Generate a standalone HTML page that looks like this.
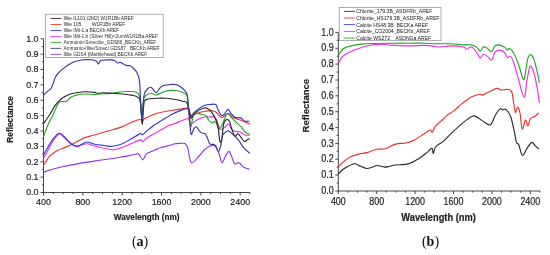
<!DOCTYPE html>
<html><head><meta charset="utf-8"><title>Reflectance spectra</title>
<style>
text{stroke:#222;stroke-width:0.18px;}
text.lg{stroke:none;fill:#2a2a2a;}
text.lg2{stroke:none;fill:#151515;}
text.cap{stroke:none;}
html,body{margin:0;padding:0;background:#fff;}
body{width:550px;height:255px;overflow:hidden;}
svg{display:block;}
</style></head>
<body>
<svg width="550" height="255" viewBox="0 0 550 255" font-family="'Liberation Sans', Arial, sans-serif" fill="#222">
<rect width="550" height="255" fill="#fff"/>
<g>
<path d="M43.5,38.8 L43.5,192.5 L250.0,192.5" fill="none" stroke="#333" stroke-width="0.9"/>
<path d="M40.5,192.5 H43.5 M41.9,184.8 H43.5 M40.5,177.1 H43.5 M41.9,169.4 H43.5 M40.5,161.8 H43.5 M41.9,154.1 H43.5 M40.5,146.4 H43.5 M41.9,138.7 H43.5 M40.5,131.0 H43.5 M41.9,123.3 H43.5 M40.5,115.7 H43.5 M41.9,108.0 H43.5 M40.5,100.3 H43.5 M41.9,92.6 H43.5 M40.5,84.9 H43.5 M41.9,77.2 H43.5 M40.5,69.5 H43.5 M41.9,61.9 H43.5 M40.5,54.2 H43.5 M41.9,46.5 H43.5 M40.5,38.8 H43.5 M43.5,192.5 V195.5 M53.3,192.5 V194.1 M63.2,192.5 V194.1 M73.0,192.5 V194.1 M82.8,192.5 V195.5 M92.7,192.5 V194.1 M102.5,192.5 V194.1 M112.3,192.5 V194.1 M122.2,192.5 V195.5 M132.0,192.5 V194.1 M141.9,192.5 V194.1 M151.7,192.5 V194.1 M161.5,192.5 V195.5 M171.4,192.5 V194.1 M181.2,192.5 V194.1 M191.0,192.5 V194.1 M200.9,192.5 V195.5 M210.7,192.5 V194.1 M220.5,192.5 V194.1 M230.4,192.5 V194.1 M240.2,192.5 V195.5 M250.0,192.5 V194.1" fill="none" stroke="#333" stroke-width="0.9"/>
<text transform="translate(38.5,195.37) scale(1,1.12)" text-anchor="end" font-size="8.9">0.0</text>
<text transform="translate(38.5,180.00) scale(1,1.12)" text-anchor="end" font-size="8.9">0.1</text>
<text transform="translate(38.5,164.63) scale(1,1.12)" text-anchor="end" font-size="8.9">0.2</text>
<text transform="translate(38.5,149.26) scale(1,1.12)" text-anchor="end" font-size="8.9">0.3</text>
<text transform="translate(38.5,133.89) scale(1,1.12)" text-anchor="end" font-size="8.9">0.4</text>
<text transform="translate(38.5,118.52) scale(1,1.12)" text-anchor="end" font-size="8.9">0.5</text>
<text transform="translate(38.5,103.15) scale(1,1.12)" text-anchor="end" font-size="8.9">0.6</text>
<text transform="translate(38.5,87.78) scale(1,1.12)" text-anchor="end" font-size="8.9">0.7</text>
<text transform="translate(38.5,72.41) scale(1,1.12)" text-anchor="end" font-size="8.9">0.8</text>
<text transform="translate(38.5,57.04) scale(1,1.12)" text-anchor="end" font-size="8.9">0.9</text>
<text transform="translate(38.5,41.67) scale(1,1.12)" text-anchor="end" font-size="8.9">1.0</text>
<text transform="translate(43.50,204.77) scale(1,1.12)" text-anchor="middle" font-size="8.9">400</text>
<text transform="translate(82.84,204.77) scale(1,1.12)" text-anchor="middle" font-size="8.9">800</text>
<text transform="translate(122.18,204.77) scale(1,1.12)" text-anchor="middle" font-size="8.9">1200</text>
<text transform="translate(161.52,204.77) scale(1,1.12)" text-anchor="middle" font-size="8.9">1600</text>
<text transform="translate(200.86,204.77) scale(1,1.12)" text-anchor="middle" font-size="8.9">2000</text>
<text transform="translate(240.20,204.77) scale(1,1.12)" text-anchor="middle" font-size="8.9">2400</text>
<path d="M43.50,172.30 C44.75,171.88 48.25,170.63 51.00,169.80 C53.75,168.97 55.17,168.37 60.00,167.30 C64.83,166.23 73.33,164.57 80.00,163.40 C86.67,162.23 93.33,161.32 100.00,160.30 C106.67,159.28 115.00,158.12 120.00,157.30 C125.00,156.48 127.17,155.95 130.00,155.40 C132.83,154.85 135.45,154.13 137.00,154.00 C138.55,153.87 138.38,153.63 139.30,154.60 C140.22,155.57 141.47,159.68 142.50,159.80 C143.53,159.92 144.75,156.33 145.50,155.30 C146.25,154.27 145.03,154.63 147.00,153.60 C148.97,152.57 155.03,150.08 157.30,149.10 C159.57,148.12 158.33,148.38 160.60,147.70 C162.87,147.02 168.55,145.65 170.90,145.00 C173.25,144.35 173.18,144.07 174.70,143.80 C176.22,143.53 178.37,143.47 180.00,143.40 C181.63,143.33 183.35,142.97 184.50,143.40 C185.65,143.83 186.32,145.05 186.90,146.00 C187.48,146.95 187.25,146.32 188.00,149.10 C188.75,151.88 189.70,161.38 191.40,162.70 C193.10,164.02 195.98,159.20 198.20,157.00 C200.42,154.80 202.78,151.30 204.70,149.50 C206.62,147.70 208.08,146.85 209.70,146.20 C211.32,145.55 213.22,145.22 214.40,145.60 C215.58,145.98 216.02,147.13 216.80,148.50 C217.58,149.87 218.23,151.43 219.10,153.80 C219.97,156.17 220.93,162.33 222.00,162.70 C223.07,163.07 224.35,157.88 225.50,156.00 C226.65,154.12 227.90,151.40 228.90,151.40 C229.90,151.40 230.57,153.92 231.50,156.00 C232.43,158.08 233.23,162.78 234.50,163.90 C235.77,165.02 237.58,162.13 239.10,162.70 C240.62,163.27 241.90,166.23 243.60,167.30 C245.30,168.37 248.35,168.80 249.30,169.10" fill="none" stroke="#9035e6" stroke-width="1.15" stroke-linejoin="round"/>
<path d="M43.50,165.50 C44.13,164.48 46.22,161.02 47.30,159.40 C48.38,157.78 48.33,157.27 50.00,155.80 C51.67,154.33 54.88,151.97 57.30,150.60 C59.72,149.23 62.08,148.60 64.50,147.60 C66.92,146.60 69.37,145.78 71.80,144.60 C74.23,143.42 76.92,141.67 79.10,140.50 C81.28,139.33 82.48,138.47 84.90,137.60 C87.32,136.73 89.72,136.40 93.60,135.30 C97.48,134.20 103.35,132.45 108.20,131.00 C113.05,129.55 119.07,127.93 122.70,126.60 C126.33,125.27 127.15,124.18 130.00,123.00 C132.85,121.82 137.77,119.67 139.80,119.50 C141.83,119.33 141.42,122.12 142.20,122.00 C142.98,121.88 142.03,120.25 144.50,118.80 C146.97,117.35 152.30,114.73 157.00,113.30 C161.70,111.87 168.25,110.98 172.70,110.20 C177.15,109.42 181.08,108.73 183.70,108.60 C186.32,108.47 187.35,108.67 188.40,109.40 C189.45,110.13 189.52,111.65 190.00,113.00 C190.48,114.35 190.68,117.18 191.30,117.50 C191.92,117.82 192.15,115.78 193.70,114.90 C195.25,114.02 198.72,112.82 200.60,112.20 C202.48,111.58 203.28,111.47 205.00,111.20 C206.72,110.93 209.13,110.50 210.90,110.60 C212.67,110.70 213.83,110.63 215.60,111.80 C217.37,112.97 219.93,117.02 221.50,117.60 C223.07,118.18 223.83,115.98 225.00,115.30 C226.17,114.62 227.13,113.12 228.50,113.50 C229.87,113.88 231.23,116.52 233.20,117.60 C235.17,118.68 237.55,118.92 240.30,120.00 C243.05,121.08 248.13,123.42 249.70,124.10" fill="none" stroke="#e8332e" stroke-width="1.15" stroke-linejoin="round"/>
<path d="M43.50,158.60 C44.13,157.43 45.77,154.45 47.30,151.60 C48.83,148.75 50.72,144.48 52.70,141.50 C54.68,138.52 57.27,134.35 59.20,133.70 C61.13,133.05 62.28,135.88 64.30,137.60 C66.32,139.32 69.15,142.53 71.30,144.00 C73.45,145.47 75.42,146.28 77.20,146.40 C78.98,146.52 80.32,145.13 82.00,144.70 C83.68,144.27 85.22,143.58 87.30,143.80 C89.38,144.02 91.78,145.27 94.50,146.00 C97.22,146.73 100.43,147.57 103.60,148.20 C106.77,148.83 110.53,149.88 113.50,149.80 C116.47,149.72 118.52,148.70 121.40,147.70 C124.28,146.70 127.67,145.10 130.80,143.80 C133.93,142.50 138.17,140.28 140.20,139.90 C142.23,139.52 141.95,141.77 143.00,141.50 C144.05,141.23 144.35,139.75 146.50,138.30 C148.65,136.85 152.25,134.88 155.90,132.80 C159.55,130.72 165.60,127.22 168.40,125.80 C171.20,124.38 169.62,125.47 172.70,124.30 C175.78,123.13 184.18,119.52 186.90,118.80 C189.62,118.08 188.32,119.05 189.00,120.00 C189.68,120.95 189.83,124.43 191.00,124.50 C192.17,124.57 193.72,121.65 196.00,120.40 C198.28,119.15 202.22,117.55 204.70,117.00 C207.18,116.45 209.28,117.18 210.90,117.10 C212.52,117.02 213.42,115.92 214.40,116.50 C215.38,117.08 216.02,118.85 216.80,120.60 C217.58,122.35 218.32,125.52 219.10,127.00 C219.88,128.48 220.42,129.58 221.50,129.50 C222.58,129.42 224.38,127.42 225.60,126.50 C226.82,125.58 227.72,123.47 228.80,124.00 C229.88,124.53 230.97,128.45 232.10,129.70 C233.23,130.95 234.23,131.12 235.60,131.50 C236.97,131.88 238.73,131.42 240.30,132.00 C241.87,132.58 243.43,134.50 245.00,135.00 C246.57,135.50 248.92,135.00 249.70,135.00" fill="none" stroke="#ee2cee" stroke-width="1.15" stroke-linejoin="round"/>
<path d="M43.50,155.00 C44.13,153.87 45.77,150.82 47.30,148.20 C48.83,145.58 50.72,141.78 52.70,139.30 C54.68,136.82 57.27,133.72 59.20,133.30 C61.13,132.88 62.28,135.02 64.30,136.80 C66.32,138.58 69.15,142.43 71.30,144.00 C73.45,145.57 75.42,146.17 77.20,146.20 C78.98,146.23 80.32,144.90 82.00,144.20 C83.68,143.50 85.22,142.00 87.30,142.00 C89.38,142.00 91.78,143.62 94.50,144.20 C97.22,144.78 100.57,145.15 103.60,145.50 C106.63,145.85 109.67,146.55 112.70,146.30 C115.73,146.05 118.78,145.20 121.80,144.00 C124.82,142.80 127.73,140.83 130.80,139.10 C133.87,137.37 138.25,134.33 140.20,133.60 C142.15,132.87 141.45,135.08 142.50,134.70 C143.55,134.32 144.53,132.92 146.50,131.30 C148.47,129.68 152.55,126.30 154.30,125.00 C156.05,123.70 153.93,125.32 157.00,123.50 C160.07,121.68 167.98,116.58 172.70,114.10 C177.42,111.62 182.68,109.52 185.30,108.60 C187.92,107.68 187.57,107.32 188.40,108.60 C189.23,109.88 189.42,115.58 190.30,116.30 C191.18,117.02 191.98,114.38 193.70,112.90 C195.42,111.42 198.72,108.67 200.60,107.40 C202.48,106.13 203.48,105.78 205.00,105.30 C206.52,104.82 207.93,104.63 209.70,104.50 C211.47,104.37 214.23,103.68 215.60,104.50 C216.97,105.32 216.92,107.60 217.90,109.40 C218.88,111.20 220.42,114.52 221.50,115.30 C222.58,116.08 223.33,115.08 224.40,114.10 C225.47,113.12 226.82,109.50 227.90,109.40 C228.98,109.30 229.62,112.13 230.90,113.50 C232.18,114.87 234.03,116.92 235.60,117.60 C237.17,118.28 238.73,117.00 240.30,117.60 C241.87,118.20 243.43,120.60 245.00,121.20 C246.57,121.80 248.92,121.20 249.70,121.20" fill="none" stroke="#3434e0" stroke-width="1.15" stroke-linejoin="round"/>
<path d="M43.50,137.00 C44.13,135.23 45.77,129.98 47.30,126.40 C48.83,122.82 50.88,119.30 52.70,115.50 C54.52,111.70 56.83,105.88 58.20,103.60 C59.57,101.32 59.53,102.18 60.90,101.80 C62.27,101.42 64.73,102.05 66.40,101.30 C68.07,100.55 69.23,98.33 70.90,97.30 C72.57,96.27 73.97,95.65 76.40,95.10 C78.83,94.55 82.48,94.10 85.50,94.00 C88.52,93.90 92.08,94.50 94.50,94.50 C96.92,94.50 96.97,94.23 100.00,94.00 C103.03,93.77 109.07,93.47 112.70,93.10 C116.33,92.73 118.77,92.07 121.80,91.80 C124.83,91.53 128.47,91.43 130.90,91.50 C133.33,91.57 135.05,91.62 136.40,92.20 C137.75,92.78 138.32,93.37 139.00,95.00 C139.68,96.63 140.00,98.17 140.50,102.00 C141.00,105.83 141.50,118.33 142.00,118.00 C142.50,117.67 142.83,103.75 143.50,100.00 C144.17,96.25 144.67,96.62 146.00,95.50 C147.33,94.38 149.80,93.38 151.50,93.30 C153.20,93.22 154.05,95.30 156.20,95.00 C158.35,94.70 161.50,92.27 164.40,91.50 C167.30,90.73 170.85,90.35 173.60,90.40 C176.35,90.45 178.77,91.12 180.90,91.80 C183.03,92.48 185.28,93.33 186.40,94.50 C187.52,95.67 187.17,96.22 187.60,98.80 C188.03,101.38 188.48,105.30 189.00,110.00 C189.52,114.70 189.95,126.32 190.70,127.00 C191.45,127.68 192.62,116.43 193.50,114.10 C194.38,111.77 194.82,112.98 196.00,113.00 C197.18,113.02 198.92,113.77 200.60,114.20 C202.28,114.63 204.78,114.63 206.10,115.60 C207.42,116.57 207.50,118.78 208.50,120.00 C209.50,121.22 210.92,122.60 212.10,122.90 C213.28,123.20 214.43,120.72 215.60,121.80 C216.77,122.88 217.93,129.12 219.10,129.40 C220.27,129.68 221.42,125.85 222.60,123.50 C223.78,121.15 225.22,116.87 226.20,115.30 C227.18,113.73 227.52,113.62 228.50,114.10 C229.48,114.58 230.72,116.73 232.10,118.20 C233.48,119.67 235.23,121.42 236.80,122.90 C238.37,124.38 240.13,125.58 241.50,127.10 C242.87,128.62 243.63,130.78 245.00,132.00 C246.37,133.22 248.92,134.00 249.70,134.40" fill="none" stroke="#2aa22a" stroke-width="1.15" stroke-linejoin="round"/>
<path d="M43.50,123.60 C44.13,122.70 46.07,120.02 47.30,118.20 C48.53,116.38 49.70,114.67 50.90,112.70 C52.10,110.73 53.28,108.22 54.50,106.40 C55.72,104.58 56.68,103.32 58.20,101.80 C59.72,100.28 61.78,98.52 63.60,97.30 C65.42,96.08 66.97,95.27 69.10,94.50 C71.23,93.73 73.67,93.15 76.40,92.70 C79.13,92.25 82.48,91.85 85.50,91.80 C88.52,91.75 92.38,92.15 94.50,92.40 C96.62,92.65 96.68,93.25 98.20,93.30 C99.72,93.35 101.18,92.70 103.60,92.70 C106.02,92.70 109.67,93.08 112.70,93.30 C115.73,93.52 118.77,93.70 121.80,94.00 C124.83,94.30 128.47,94.70 130.90,95.10 C133.33,95.50 134.97,95.75 136.40,96.40 C137.83,97.05 138.77,97.57 139.50,99.00 C140.23,100.43 140.35,100.83 140.80,105.00 C141.25,109.17 141.75,123.50 142.20,124.00 C142.65,124.50 143.12,111.83 143.50,108.00 C143.88,104.17 143.72,102.50 144.50,101.00 C145.28,99.50 146.07,99.47 148.20,99.00 C150.33,98.53 154.27,98.33 157.30,98.20 C160.33,98.07 163.37,97.98 166.40,98.20 C169.43,98.42 172.78,98.98 175.50,99.50 C178.22,100.02 180.80,100.78 182.70,101.30 C184.60,101.82 185.85,101.15 186.90,102.60 C187.95,104.05 188.32,107.37 189.00,110.00 C189.68,112.63 189.98,117.92 191.00,118.40 C192.02,118.88 192.82,114.63 195.10,112.90 C197.38,111.17 202.27,108.48 204.70,108.00 C207.13,107.52 208.08,108.58 209.70,110.00 C211.32,111.42 213.03,113.85 214.40,116.50 C215.77,119.15 217.02,121.83 217.90,125.90 C218.78,129.97 219.10,138.50 219.70,140.90 C220.30,143.30 221.02,141.78 221.50,140.30 C221.98,138.82 222.22,134.80 222.60,132.00 C222.98,129.20 223.10,125.60 223.80,123.50 C224.50,121.40 225.82,119.68 226.80,119.40 C227.78,119.12 228.92,120.33 229.70,121.80 C230.48,123.27 230.62,125.80 231.50,128.20 C232.38,130.60 233.93,135.27 235.00,136.20 C236.07,137.13 236.82,133.52 237.90,133.80 C238.98,134.08 240.42,136.62 241.50,137.90 C242.58,139.18 243.42,141.20 244.40,141.50 C245.38,141.80 246.52,140.20 247.40,139.70 C248.28,139.20 249.32,138.70 249.70,138.50" fill="none" stroke="#2a2a2a" stroke-width="1.15" stroke-linejoin="round"/>
<path d="M43.50,95.30 C44.13,94.68 46.05,92.77 47.30,91.60 C48.55,90.43 50.02,89.65 51.00,88.30 C51.98,86.95 52.53,85.22 53.20,83.50 C53.87,81.78 54.07,79.83 55.00,78.00 C55.93,76.17 57.38,74.10 58.80,72.50 C60.22,70.90 61.38,69.98 63.50,68.40 C65.62,66.82 69.25,64.23 71.50,63.00 C73.75,61.77 74.98,61.55 77.00,61.00 C79.02,60.45 81.22,59.90 83.60,59.70 C85.98,59.50 89.18,59.55 91.30,59.80 C93.42,60.05 95.13,60.50 96.30,61.20 C97.47,61.90 97.68,64.00 98.30,64.00 C98.92,64.00 99.45,61.83 100.00,61.20 C100.55,60.57 99.68,60.42 101.60,60.20 C103.52,59.98 109.30,59.80 111.50,59.90 C113.70,60.00 113.80,60.28 114.80,60.80 C115.80,61.32 116.58,62.73 117.50,63.00 C118.42,63.27 119.28,62.22 120.30,62.40 C121.32,62.58 122.50,63.57 123.60,64.10 C124.70,64.63 125.80,65.32 126.90,65.60 C128.00,65.88 129.10,65.32 130.20,65.80 C131.30,66.28 132.40,67.42 133.50,68.50 C134.60,69.58 135.88,70.65 136.80,72.30 C137.72,73.95 138.47,75.95 139.00,78.40 C139.53,80.85 139.75,83.40 140.00,87.00 C140.25,90.60 140.17,94.50 140.50,100.00 C140.83,105.50 141.50,120.00 142.00,120.00 C142.50,120.00 143.08,104.40 143.50,100.00 C143.92,95.60 143.87,95.43 144.50,93.60 C145.13,91.77 146.23,90.05 147.30,89.00 C148.37,87.95 149.85,87.13 150.90,87.30 C151.95,87.47 152.68,89.10 153.60,90.00 C154.52,90.90 155.33,93.07 156.40,92.70 C157.47,92.33 158.90,88.95 160.00,87.80 C161.10,86.65 161.67,86.32 163.00,85.80 C164.33,85.28 166.17,84.93 168.00,84.70 C169.83,84.47 172.33,84.30 174.00,84.40 C175.67,84.50 176.83,84.83 178.00,85.30 C179.17,85.77 179.92,86.37 181.00,87.20 C182.08,88.03 183.45,89.00 184.50,90.30 C185.55,91.60 186.65,92.02 187.30,95.00 C187.95,97.98 187.95,103.20 188.40,108.20 C188.85,113.20 189.53,120.62 190.00,125.00 C190.47,129.38 190.58,133.85 191.20,134.50 C191.82,135.15 192.82,130.17 193.70,128.90 C194.58,127.63 195.35,126.32 196.50,126.90 C197.65,127.48 199.18,131.25 200.60,132.40 C202.02,133.55 203.87,132.88 205.00,133.80 C206.13,134.72 206.62,136.23 207.40,137.90 C208.18,139.57 208.73,142.72 209.70,143.80 C210.67,144.88 212.22,144.10 213.20,144.40 C214.18,144.70 214.72,144.42 215.60,145.60 C216.48,146.78 217.62,151.60 218.50,151.50 C219.38,151.40 220.22,147.65 220.90,145.00 C221.58,142.35 221.92,137.67 222.60,135.60 C223.28,133.53 224.02,133.38 225.00,132.60 C225.98,131.82 227.32,130.70 228.50,130.90 C229.68,131.10 230.92,132.82 232.10,133.80 C233.28,134.78 234.43,135.62 235.60,136.80 C236.77,137.98 237.73,139.05 239.10,140.90 C240.47,142.75 242.03,145.85 243.80,147.90 C245.57,149.95 248.72,152.32 249.70,153.20" fill="none" stroke="#3a3a9a" stroke-width="1.15" stroke-linejoin="round"/>
<rect x="45.3" y="14.3" width="117.89999999999999" height="43.2" fill="#fff" stroke="#9a9a9a" stroke-width="0.8"/>
<path d="M50.5,18.5 H61.4" stroke="#2a2a2a" stroke-width="0.85"/>
<text class="lg" transform="translate(63.5,20.30) scale(1,1.0)" font-size="4.8" xml:space="preserve">Illite IL101 (2M2) W1R1Bb AREF</text>
<path d="M50.5,24.5 H61.4" stroke="#e8332e" stroke-width="0.85"/>
<text class="lg" transform="translate(63.5,26.30) scale(1,1.0)" font-size="4.8" xml:space="preserve">Illite 105        W1R1Bb AREF</text>
<path d="M50.5,30.5 H61.4" stroke="#3434e0" stroke-width="0.85"/>
<text class="lg" transform="translate(63.5,32.30) scale(1,1.0)" font-size="4.8" xml:space="preserve">Illite IMt-1.a BECKb AREF</text>
<path d="M50.5,36.5 H61.4" stroke="#ee2cee" stroke-width="0.85"/>
<text class="lg" transform="translate(63.5,38.30) scale(1,1.0)" font-size="4.8" xml:space="preserve">Illite IMt-1.b (Silver Hill)&lt;2umW1R1Ba AREF</text>
<path d="M50.5,42.4 H61.4" stroke="#2aa22a" stroke-width="0.85"/>
<text class="lg" transform="translate(63.5,44.20) scale(1,1.0)" font-size="4.8" xml:space="preserve">Ammonio-Smectite_GDS86_BECKb_AREF</text>
<path d="M50.5,48.4 H61.4" stroke="#3a3a9a" stroke-width="0.85"/>
<text class="lg" transform="translate(63.5,50.20) scale(1,1.0)" font-size="4.8" xml:space="preserve">Ammonio-Illite/Smect GDS87   BECKb AREF</text>
<path d="M50.5,54.4 H61.4" stroke="#9035e6" stroke-width="0.85"/>
<text class="lg" transform="translate(63.5,56.20) scale(1,1.0)" font-size="4.8" xml:space="preserve">Illite GDS4 (Marblehead) BECKb AREF</text>
<text transform="translate(13.4,119.4) rotate(-90)" text-anchor="middle" font-size="8.3" font-weight="bold">Reflectance</text>
<text x="113.8" y="220.2" font-size="8.2" font-weight="bold">Wavelength (nm)</text>
<text x="140.1" y="245.8" text-anchor="middle" font-size="14" font-family="'Liberation Serif', 'Times New Roman', serif" fill="#111" class="cap">(<tspan font-weight="bold">a</tspan>)</text>
<path d="M338.3,32.4 L338.3,191.0 L539.9,191.0" fill="none" stroke="#333" stroke-width="0.9"/>
<path d="M335.3,191.0 H338.3 M336.7,183.1 H338.3 M335.3,175.1 H338.3 M336.7,167.2 H338.3 M335.3,159.3 H338.3 M336.7,151.3 H338.3 M335.3,143.4 H338.3 M336.7,135.5 H338.3 M335.3,127.6 H338.3 M336.7,119.6 H338.3 M335.3,111.7 H338.3 M336.7,103.8 H338.3 M335.3,95.8 H338.3 M336.7,87.9 H338.3 M335.3,80.0 H338.3 M336.7,72.1 H338.3 M335.3,64.1 H338.3 M336.7,56.2 H338.3 M335.3,48.3 H338.3 M336.7,40.3 H338.3 M335.3,32.4 H338.3 M338.3,191.0 V194.0 M347.9,191.0 V192.6 M357.5,191.0 V192.6 M367.1,191.0 V192.6 M376.7,191.0 V194.0 M386.3,191.0 V192.6 M395.9,191.0 V192.6 M405.5,191.0 V192.6 M415.1,191.0 V194.0 M424.7,191.0 V192.6 M434.3,191.0 V192.6 M443.9,191.0 V192.6 M453.5,191.0 V194.0 M463.1,191.0 V192.6 M472.7,191.0 V192.6 M482.3,191.0 V192.6 M491.9,191.0 V194.0 M501.5,191.0 V192.6 M511.1,191.0 V192.6 M520.7,191.0 V192.6 M530.3,191.0 V194.0 M539.9,191.0 V192.6" fill="none" stroke="#333" stroke-width="0.9"/>
<text transform="translate(333.6,194.16) scale(1,1.15)" text-anchor="end" font-size="8.9">0.0</text>
<text transform="translate(333.6,178.30) scale(1,1.15)" text-anchor="end" font-size="8.9">0.1</text>
<text transform="translate(333.6,162.44) scale(1,1.15)" text-anchor="end" font-size="8.9">0.2</text>
<text transform="translate(333.6,146.58) scale(1,1.15)" text-anchor="end" font-size="8.9">0.3</text>
<text transform="translate(333.6,130.72) scale(1,1.15)" text-anchor="end" font-size="8.9">0.4</text>
<text transform="translate(333.6,114.86) scale(1,1.15)" text-anchor="end" font-size="8.9">0.5</text>
<text transform="translate(333.6,99.00) scale(1,1.15)" text-anchor="end" font-size="8.9">0.6</text>
<text transform="translate(333.6,83.14) scale(1,1.15)" text-anchor="end" font-size="8.9">0.7</text>
<text transform="translate(333.6,67.28) scale(1,1.15)" text-anchor="end" font-size="8.9">0.8</text>
<text transform="translate(333.6,51.42) scale(1,1.15)" text-anchor="end" font-size="8.9">0.9</text>
<text transform="translate(333.6,35.56) scale(1,1.15)" text-anchor="end" font-size="8.9">1.0</text>
<text transform="translate(338.30,204.66) scale(1,1.15)" text-anchor="middle" font-size="8.9">400</text>
<text transform="translate(376.70,204.66) scale(1,1.15)" text-anchor="middle" font-size="8.9">800</text>
<text transform="translate(415.10,204.66) scale(1,1.15)" text-anchor="middle" font-size="8.9">1200</text>
<text transform="translate(453.50,204.66) scale(1,1.15)" text-anchor="middle" font-size="8.9">1600</text>
<text transform="translate(491.90,204.66) scale(1,1.15)" text-anchor="middle" font-size="8.9">2000</text>
<text transform="translate(530.30,204.66) scale(1,1.15)" text-anchor="middle" font-size="8.9">2400</text>
<path d="M338.10,167.10 C339.02,166.18 341.40,163.35 343.60,161.60 C345.80,159.85 348.62,157.88 351.30,156.60 C353.98,155.32 357.13,154.57 359.70,153.90 C362.27,153.23 363.85,153.37 366.70,152.60 C369.55,151.83 373.72,149.95 376.80,149.30 C379.88,148.65 382.05,149.57 385.20,148.70 C388.35,147.83 392.22,145.05 395.70,144.10 C399.18,143.15 402.97,143.70 406.10,143.00 C409.23,142.30 411.70,141.30 414.50,139.90 C417.30,138.50 420.28,136.25 422.90,134.60 C425.52,132.95 428.65,130.37 430.20,130.00 C431.75,129.63 431.33,133.02 432.20,132.40 C433.07,131.78 433.82,128.28 435.40,126.30 C436.98,124.32 439.82,122.28 441.70,120.50 C443.58,118.72 444.63,117.25 446.70,115.60 C448.77,113.95 451.65,112.52 454.10,110.60 C456.55,108.68 459.23,105.87 461.40,104.10 C463.57,102.33 465.37,101.23 467.10,100.00 C468.83,98.77 469.62,97.67 471.80,96.70 C473.98,95.73 478.45,94.47 480.20,94.20 C481.95,93.93 480.90,95.45 482.30,95.10 C483.70,94.75 486.17,93.22 488.60,92.10 C491.03,90.98 494.82,88.75 496.90,88.40 C498.98,88.05 499.35,89.83 501.10,90.00 C502.85,90.17 505.65,89.15 507.40,89.40 C509.15,89.65 510.55,89.23 511.60,91.50 C512.65,93.77 513.07,99.52 513.70,103.00 C514.33,106.48 514.75,111.72 515.40,112.40 C516.05,113.08 516.83,107.00 517.60,107.10 C518.37,107.20 519.23,109.35 520.00,113.00 C520.77,116.65 521.28,127.83 522.20,129.00 C523.12,130.17 524.57,120.50 525.50,120.00 C526.43,119.50 526.98,126.22 527.80,126.00 C528.62,125.78 529.27,120.27 530.40,118.70 C531.53,117.13 533.20,117.55 534.60,116.60 C536.00,115.65 538.10,113.60 538.80,113.00" fill="none" stroke="#e8332e" stroke-width="1.15" stroke-linejoin="round"/>
<path d="M338.20,174.30 C338.83,173.63 340.48,171.55 342.00,170.30 C343.52,169.05 345.53,167.80 347.30,166.80 C349.07,165.80 351.27,164.80 352.60,164.30 C353.93,163.80 354.12,163.53 355.30,163.80 C356.48,164.07 357.80,165.12 359.70,165.90 C361.60,166.68 364.65,168.27 366.70,168.50 C368.75,168.73 370.23,167.80 372.00,167.30 C373.77,166.80 375.23,165.53 377.30,165.50 C379.37,165.47 382.33,166.98 384.40,167.10 C386.47,167.22 387.82,166.55 389.70,166.20 C391.58,165.85 392.62,165.38 395.70,165.00 C398.78,164.62 404.37,164.95 408.20,163.90 C412.03,162.85 415.55,160.62 418.70,158.70 C421.85,156.78 424.90,154.15 427.10,152.40 C429.30,150.65 430.87,148.02 431.90,148.20 C432.93,148.38 432.72,153.67 433.30,153.50 C433.88,153.33 434.28,148.87 435.40,147.20 C436.52,145.53 438.60,144.55 440.00,143.50 C441.40,142.45 441.83,142.67 443.80,140.90 C445.77,139.13 448.52,135.98 451.80,132.90 C455.08,129.82 459.98,125.22 463.50,122.40 C467.02,119.58 470.55,116.80 472.90,116.00 C475.25,115.20 475.63,116.53 477.60,117.60 C479.57,118.67 482.53,121.22 484.70,122.40 C486.87,123.58 488.83,125.88 490.60,124.70 C492.37,123.52 493.73,117.93 495.30,115.30 C496.87,112.67 498.82,109.80 500.00,108.90 C501.18,108.00 501.42,109.82 502.40,109.90 C503.38,109.98 504.53,108.30 505.90,109.40 C507.27,110.50 509.23,112.97 510.60,116.50 C511.97,120.03 513.12,126.28 514.10,130.60 C515.08,134.92 515.72,140.05 516.50,142.40 C517.28,144.75 517.82,142.55 518.80,144.70 C519.78,146.85 521.02,154.72 522.40,155.30 C523.78,155.88 525.53,150.35 527.10,148.20 C528.67,146.05 530.43,142.78 531.80,142.40 C533.17,142.02 534.13,144.82 535.30,145.90 C536.47,146.98 538.22,148.40 538.80,148.90" fill="none" stroke="#2a2a2a" stroke-width="1.15" stroke-linejoin="round"/>
<path d="M338.30,63.20 C338.97,62.13 340.73,58.47 342.30,56.80 C343.87,55.13 345.88,54.25 347.70,53.20 C349.52,52.15 350.77,51.50 353.20,50.50 C355.63,49.50 359.27,48.12 362.30,47.20 C365.33,46.28 368.37,45.52 371.40,45.00 C374.43,44.48 377.48,44.10 380.50,44.10 C383.52,44.10 384.97,44.70 389.50,45.00 C394.03,45.30 401.63,45.83 407.70,45.90 C413.77,45.97 421.35,45.30 425.90,45.40 C430.45,45.50 432.57,46.23 435.00,46.50 C437.43,46.77 437.85,47.10 440.50,47.00 C443.15,46.90 447.07,45.90 450.90,45.90 C454.73,45.90 460.88,46.47 463.50,47.00 C466.12,47.53 465.22,49.10 466.60,49.10 C467.98,49.10 470.05,46.32 471.80,47.00 C473.55,47.68 475.70,51.35 477.10,53.20 C478.50,55.05 479.17,57.92 480.20,58.10 C481.23,58.28 482.08,54.58 483.30,54.30 C484.52,54.02 486.10,55.43 487.50,56.40 C488.90,57.37 490.47,60.80 491.70,60.10 C492.93,59.40 493.68,53.87 494.90,52.20 C496.12,50.53 497.43,50.10 499.00,50.10 C500.57,50.10 502.90,50.98 504.30,52.20 C505.70,53.42 506.37,56.70 507.40,57.40 C508.43,58.10 509.45,55.52 510.50,56.40 C511.55,57.28 512.42,59.07 513.70,62.70 C514.98,66.33 516.47,72.47 518.20,78.20 C519.93,83.93 522.63,96.80 524.10,97.10 C525.57,97.40 526.02,85.10 527.00,80.00 C527.98,74.90 528.92,67.97 530.00,66.50 C531.08,65.03 532.32,67.68 533.50,71.20 C534.68,74.72 536.12,82.32 537.10,87.60 C538.08,92.88 539.02,100.35 539.40,102.90" fill="none" stroke="#ee2cee" stroke-width="1.15" stroke-linejoin="round"/>
<path d="M338.30,55.90 C338.97,54.83 340.73,51.02 342.30,49.50 C343.87,47.98 345.88,47.48 347.70,46.80 C349.52,46.12 350.77,45.85 353.20,45.40 C355.63,44.95 359.27,44.42 362.30,44.10 C365.33,43.78 366.87,43.65 371.40,43.50 C375.93,43.35 383.45,43.25 389.50,43.20 C395.55,43.15 401.63,43.20 407.70,43.20 C413.77,43.20 421.35,43.12 425.90,43.20 C430.45,43.28 430.83,43.60 435.00,43.70 C439.17,43.80 446.15,43.60 450.90,43.80 C455.65,44.00 460.02,44.72 463.50,44.90 C466.98,45.08 469.53,44.45 471.80,44.90 C474.07,45.35 475.70,46.55 477.10,47.60 C478.50,48.65 479.17,51.30 480.20,51.20 C481.23,51.10 482.08,47.47 483.30,47.00 C484.52,46.53 486.10,47.60 487.50,48.40 C488.90,49.20 490.47,52.22 491.70,51.80 C492.93,51.38 493.68,47.05 494.90,45.90 C496.12,44.75 497.43,44.72 499.00,44.90 C500.57,45.08 502.90,46.13 504.30,47.00 C505.70,47.87 506.53,49.87 507.40,50.10 C508.27,50.33 508.45,47.88 509.50,48.40 C510.55,48.92 512.30,50.82 513.70,53.20 C515.10,55.58 516.75,59.70 517.90,62.70 C519.05,65.70 519.57,68.42 520.60,71.20 C521.63,73.98 522.93,81.37 524.10,79.40 C525.27,77.43 526.62,63.52 527.60,59.40 C528.58,55.28 529.02,54.90 530.00,54.70 C530.98,54.50 532.32,55.45 533.50,58.20 C534.68,60.95 536.12,67.08 537.10,71.20 C538.08,75.32 539.02,80.95 539.40,82.90" fill="none" stroke="#2aa22a" stroke-width="1.15" stroke-linejoin="round"/>
<rect x="339.3" y="7.5" width="101.69999999999999" height="33.1" fill="#fff" stroke="#9a9a9a" stroke-width="0.8"/>
<path d="M343.8,11.4 H355.0" stroke="#2a2a2a" stroke-width="0.85"/>
<text class="lg2" transform="translate(356.2,13.38) scale(1,1.1)" font-size="5.12" xml:space="preserve">Chlorite_179.3B_ASDFRb_AREF</text>
<path d="M343.8,18.0 H355.0" stroke="#e8332e" stroke-width="0.85"/>
<text class="lg2" transform="translate(356.2,19.98) scale(1,1.1)" font-size="5.12" xml:space="preserve">Chlorite_HS179.3B_ASDFRb_AREF</text>
<path d="M343.8,24.6 H355.0" stroke="#3434e0" stroke-width="0.85"/>
<text class="lg2" transform="translate(356.2,26.58) scale(1,1.1)" font-size="5.12" xml:space="preserve">Calcite HS48.3B  BECKa AREF</text>
<path d="M343.8,31.4 H355.0" stroke="#ee2cee" stroke-width="0.85"/>
<text class="lg2" transform="translate(356.2,33.38) scale(1,1.1)" font-size="5.12" xml:space="preserve">Calcite_CO2004_BECKb_AREF</text>
<path d="M343.8,38.1 H355.0" stroke="#2aa22a" stroke-width="0.85"/>
<text class="lg2" transform="translate(356.2,40.08) scale(1,1.1)" font-size="5.12" xml:space="preserve">Calcite WS272    ASDNGa AREF</text>
<text transform="translate(308.6,105.6) rotate(-90) scale(1.15,1)" text-anchor="middle" font-size="8.3" font-weight="bold">Reflectance</text>
<text transform="translate(401.3,220.6) scale(1,1.15)" font-size="9.3" font-weight="bold">Wavelength (nm)</text>
<text x="430.5" y="245.8" text-anchor="middle" font-size="14" font-family="'Liberation Serif', 'Times New Roman', serif" fill="#111" class="cap">(<tspan font-weight="bold">b</tspan>)</text>
</g>
</svg>
</body></html>
